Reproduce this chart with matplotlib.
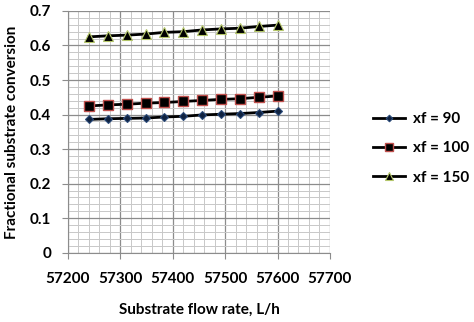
import matplotlib
matplotlib.use('Agg')
import matplotlib.pyplot as plt
from matplotlib.ticker import MultipleLocator

# substrate flow rate, L/h
flow = [57240, 57276, 57312, 57348, 57384, 57420, 57456, 57492, 57528, 57564, 57600]

# fractional substrate conversion for each feed concentration
conv_90 = [0.386, 0.388, 0.389, 0.390, 0.393, 0.395, 0.399, 0.401, 0.403, 0.406, 0.410]
conv_100 = [0.425, 0.428, 0.430, 0.433, 0.435, 0.438, 0.441, 0.444, 0.446, 0.450, 0.454]
conv_150 = [0.625, 0.628, 0.630, 0.633, 0.638, 0.640, 0.645, 0.648, 0.650, 0.655, 0.659]

labels = ['xf = 90', 'xf = 100', 'xf = 150']

plt.rcParams['font.family'] = ['Lato', 'DejaVu Sans']
plt.rcParams['font.weight'] = 'bold'

fig = plt.figure(figsize=(4.74, 3.22), dpi=100)
ax = fig.add_axes([0.1435, 0.215, 0.5525, 0.751])

ax.plot(flow, conv_90, color='black', lw=2.0, marker='D', ms=4.5,
        mfc='#10223f', mec='#2a4a7a', mew=0.8, label=labels[0])
ax.plot(flow, conv_100, color='black', lw=2.0, marker='s', ms=7,
        mfc='black', mec='#c0504d', mew=1.0, label=labels[1])
ax.plot(flow, conv_150, color='black', lw=2.0, marker='^', ms=7,
        mfc='black', mec='#b5c76a', mew=0.8, label=labels[2])

ax.set_xlim(57200, 57700)
ax.set_ylim(0, 0.7)
ax.xaxis.set_major_locator(MultipleLocator(100))
ax.xaxis.set_minor_locator(MultipleLocator(20))
ax.yaxis.set_minor_locator(MultipleLocator(0.02))
ax.set_yticks([0, 0.1, 0.2, 0.3, 0.4, 0.5, 0.6, 0.7])
ax.set_yticklabels(['0', '0.1', '0.2', '0.3', '0.4', '0.5', '0.6', '0.7'])

ax.grid(which='major', color='#8c8c8c', lw=0.9)
ax.grid(which='minor', color='#c8c8c8', lw=0.7)
ax.set_axisbelow(True)
for s in ['top', 'right']:
    ax.spines[s].set_visible(False)
for s in ['left', 'bottom']:
    ax.spines[s].set_color('#8c8c8c')
ax.tick_params(which='major', length=4, color='#8c8c8c', labelsize=11)
ax.tick_params(axis='x', pad=10)
ax.tick_params(axis='y', pad=8)
ax.tick_params(which='minor', length=0)

ax.set_xlabel('Substrate flow rate, L/h', fontsize=11, fontweight='bold', labelpad=12)
ax.set_ylabel('Fractional substrate conversion', fontsize=11, fontweight='bold', labelpad=8)

leg = fig.legend(loc='upper left', bbox_to_anchor=(0.787, 0.652), frameon=False,
                 fontsize=11, handlelength=2.1, labelspacing=1.0, handletextpad=0.5,
                 markerscale=0.75, borderpad=0, borderaxespad=0)

fig.savefig('out.png', dpi=100)
